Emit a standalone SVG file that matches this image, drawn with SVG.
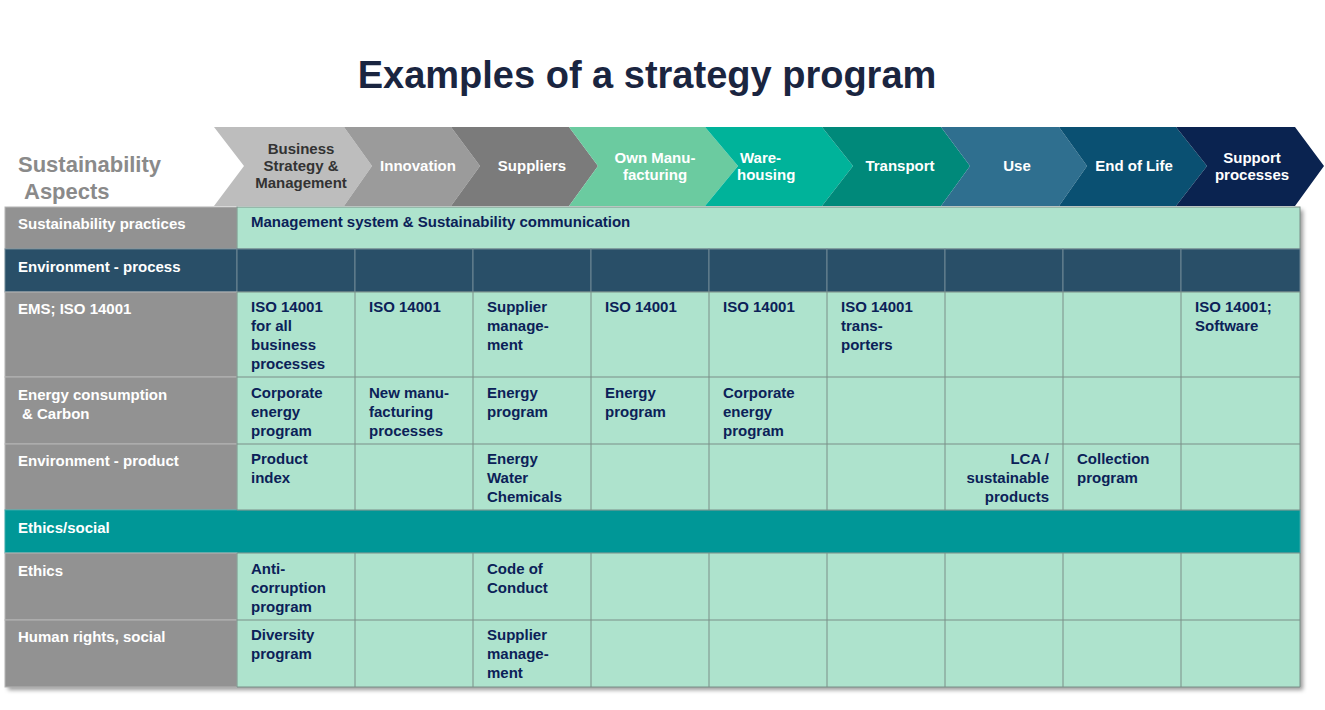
<svg xmlns="http://www.w3.org/2000/svg" width="1325" height="710" viewBox="0 0 1325 710">
<defs>
<style>
text{font-family:"Liberation Sans",Arial,sans-serif;font-weight:bold}
.ch{font-size:15px;fill:#fff;text-anchor:middle}
.lb{font-size:15px;fill:#fff}
.c{font-size:15px;fill:#0b2158}
.lt{fill:#aee3cd;stroke:#7a8f88;stroke-width:1}
.gr{fill:#929292;stroke:#b5b5b5;stroke-width:1}
.dk{fill:#294f68;stroke:#6f8794;stroke-width:1}
.tl{fill:#009797;stroke:#3aa9a9;stroke-width:1}
</style>
<filter id="sh" x="-5%" y="-5%" width="110%" height="110%"><feDropShadow dx="3" dy="3" stdDeviation="2" flood-color="#000" flood-opacity="0.4"/></filter>
</defs>
<rect width="1325" height="710" fill="#fff"/>
<text x="647" y="88" font-size="38" fill="#1a2540" text-anchor="middle">Examples of a strategy program</text>
<text x="18" y="172" font-size="22" fill="#8a8a8a">Sustainability</text>
<text x="24" y="199" font-size="22" fill="#8a8a8a">Aspects</text>
<g id="chevrons">
<polygon points="214,127 344,127 372,166 344,206 214,206 244,166" fill="#bdbdbd"/>
<polygon points="344,127 451,127 480,166 451,206 344,206 372,166" fill="#9b9b9b"/>
<polygon points="451,127 569,127 598,166 569,206 451,206 480,166" fill="#7b7b7b"/>
<polygon points="569,127 705,127 738,166 705,206 569,206 598,166" fill="#6bcba0"/>
<polygon points="705,127 822,127 853,166 822,206 705,206 738,166" fill="#00b39a"/>
<polygon points="822,127 941,127 970,166 941,206 822,206 853,166" fill="#00897a"/>
<polygon points="941,127 1059,127 1087,166 1059,206 941,206 970,166" fill="#2f6f8f"/>
<polygon points="1059,127 1176,127 1207,166 1176,206 1059,206 1087,166" fill="#0a5072"/>
<polygon points="1176,127 1295,127 1324,166 1295,206 1176,206 1207,166" fill="#0a2350"/>
<text class="ch" fill="#333" style="fill:#333" x="301" y="154">Business</text>
<text class="ch" style="fill:#333" x="301" y="171">Strategy &amp;</text>
<text class="ch" style="fill:#333" x="301" y="188">Management</text>
<text class="ch" x="418" y="171">Innovation</text>
<text class="ch" x="532" y="171">Suppliers</text>
<text class="ch" x="655" y="163">Own Manu-</text>
<text class="ch" x="655" y="180">facturing</text>
<text class="ch" x="740" y="163" text-anchor="start" style="text-anchor:start">Ware-</text>
<text class="ch" x="737" y="180" style="text-anchor:start">housing</text>
<text class="ch" x="900" y="171">Transport</text>
<text class="ch" x="1017" y="171">Use</text>
<text class="ch" x="1134" y="171">End of Life</text>
<text class="ch" x="1252" y="163">Support</text>
<text class="ch" x="1252" y="180">processes</text>
</g>
<g id="table" filter="url(#sh)">
<rect x="5" y="207" width="1295" height="480" fill="#aee3cd"/>
</g>
<g id="cells">
<rect class="gr" x="5" y="207" width="232" height="42"/>
<rect class="lt" x="237" y="207" width="1063" height="42"/>
<rect class="dk" x="5" y="249" width="232" height="43"/>
<rect class="dk" x="237" y="249" width="118" height="43"/><rect class="dk" x="355" y="249" width="118" height="43"/><rect class="dk" x="473" y="249" width="118" height="43"/><rect class="dk" x="591" y="249" width="118" height="43"/><rect class="dk" x="709" y="249" width="118" height="43"/><rect class="dk" x="827" y="249" width="118" height="43"/><rect class="dk" x="945" y="249" width="118" height="43"/><rect class="dk" x="1063" y="249" width="118" height="43"/><rect class="dk" x="1181" y="249" width="119" height="43"/>
<rect class="gr" x="5" y="292" width="232" height="85"/>
<rect class="gr" x="5" y="377" width="232" height="67"/>
<rect class="gr" x="5" y="444" width="232" height="66"/>
<rect class="tl" x="5" y="510" width="1295" height="43"/>
<rect class="gr" x="5" y="553" width="232" height="67"/>
<rect class="gr" x="5" y="620" width="232" height="67"/>
<g fill="#aee3cd" stroke="#7a8f88">
<path d="M237,292H1300V510H237Z M237,553H1300V687H237Z" fill="#aee3cd"/>
<path d="M237,377H1300M237,444H1300M237,620H1300" fill="none"/>
<path d="M355,292V510M473,292V510M591,292V510M709,292V510M827,292V510M945,292V510M1063,292V510M1181,292V510M355,553V687M473,553V687M591,553V687M709,553V687M827,553V687M945,553V687M1063,553V687M1181,553V687" fill="none"/>
</g>
</g>
<g id="labels">
<text class="lb" x="18" y="229">Sustainability practices</text>
<text class="lb" x="18" y="272">Environment - process</text>
<text class="lb" x="18" y="314">EMS; ISO 14001</text>
<text class="lb" x="18" y="400">Energy consumption</text>
<text class="lb" x="22" y="419"> &amp; Carbon</text>
<text class="lb" x="18" y="466">Environment - product</text>
<text class="lb" x="18" y="533">Ethics/social</text>
<text class="lb" x="18" y="576">Ethics</text>
<text class="lb" x="18" y="642">Human rights, social</text>
</g>
<g id="content" class="c">
<text class="c" x="251" y="227">Management system &amp; Sustainability communication</text>
<text class="c" x="251" y="312">ISO 14001</text><text class="c" x="251" y="331">for all</text><text class="c" x="251" y="350">business</text><text class="c" x="251" y="369">processes</text>
<text class="c" x="369" y="312">ISO 14001</text>
<text class="c" x="487" y="312">Supplier</text><text class="c" x="487" y="331">manage-</text><text class="c" x="487" y="350">ment</text>
<text class="c" x="605" y="312">ISO 14001</text>
<text class="c" x="723" y="312">ISO 14001</text>
<text class="c" x="841" y="312">ISO 14001</text><text class="c" x="841" y="331">trans-</text><text class="c" x="841" y="350">porters</text>
<text class="c" x="1195" y="312">ISO 14001;</text><text class="c" x="1195" y="331">Software</text>
<text class="c" x="251" y="398">Corporate</text><text class="c" x="251" y="417">energy</text><text class="c" x="251" y="436">program</text>
<text class="c" x="369" y="398">New manu-</text><text class="c" x="369" y="417">facturing</text><text class="c" x="369" y="436">processes</text>
<text class="c" x="487" y="398">Energy</text><text class="c" x="487" y="417">program</text>
<text class="c" x="605" y="398">Energy</text><text class="c" x="605" y="417">program</text>
<text class="c" x="723" y="398">Corporate</text><text class="c" x="723" y="417">energy</text><text class="c" x="723" y="436">program</text>
<text class="c" x="251" y="464">Product</text><text class="c" x="251" y="483">index</text>
<text class="c" x="487" y="464">Energy</text><text class="c" x="487" y="483">Water</text><text class="c" x="487" y="502">Chemicals</text>
<g text-anchor="end"><text class="c" x="1049" y="464">LCA /</text><text class="c" x="1049" y="483">sustainable</text><text class="c" x="1049" y="502">products</text></g>
<text class="c" x="1077" y="464">Collection</text><text class="c" x="1077" y="483">program</text>
<text class="c" x="251" y="574">Anti-</text><text class="c" x="251" y="593">corruption</text><text class="c" x="251" y="612">program</text>
<text class="c" x="487" y="574">Code of</text><text class="c" x="487" y="593">Conduct</text>
<text class="c" x="251" y="640">Diversity</text><text class="c" x="251" y="659">program</text>
<text class="c" x="487" y="640">Supplier</text><text class="c" x="487" y="659">manage-</text><text class="c" x="487" y="678">ment</text>
</g>
</svg>
